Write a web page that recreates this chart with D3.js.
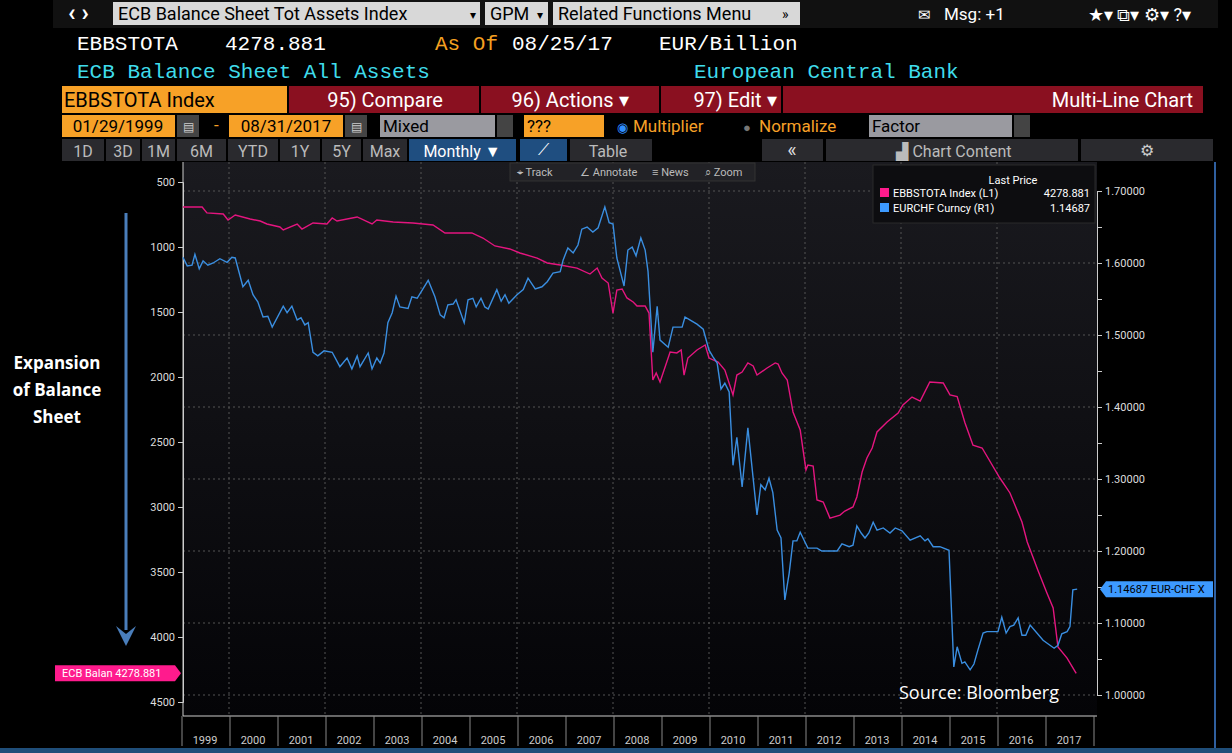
<!DOCTYPE html>
<html><head><meta charset="utf-8">
<script src="https://cdn.jsdelivr.net/npm/d3@7"></script>
<style>body{margin:0;background:#000;overflow:hidden}</style>
</head><body>
<svg id="c" width="1232" height="753"></svg>
<script>
// ECB balance sheet (EUR bn), [year, value]
const ecbData = [[1999.04,692],[1999.44,692],[1999.54,738],[1999.88,746],[1999.98,792],[2000.13,754],[2000.44,785],[2000.65,800],[2000.79,823],[2001.06,846],[2001.13,869],[2001.42,823],[2001.52,862],[2001.75,815],[2002.04,823],[2002.15,777],[2002.25,800],[2002.67,769],[2002.98,823],[2003.08,792],[2003.42,808],[2003.83,815],[2004.25,831],[2004.50,892],[2004.88,892],[2005.06,892],[2005.29,931],[2005.54,992],[2005.85,1015],[2006.06,1046],[2006.42,1085],[2006.63,1123],[2006.90,1138],[2007.25,1162],[2007.52,1208],[2007.67,1162],[2007.77,1238],[2007.90,1277],[2008.00,1508],[2008.08,1331],[2008.19,1323],[2008.29,1392],[2008.42,1423],[2008.50,1454],[2008.67,1454],[2008.75,1508],[2008.83,2023],[2008.90,1969],[2008.98,2038],[2009.19,1808],[2009.33,1815],[2009.42,1792],[2009.48,1985],[2009.56,1854],[2009.75,1792],[2009.92,1754],[2010.00,1854],[2010.19,1885],[2010.33,1946],[2010.50,2138],[2010.58,1985],[2010.69,1962],[2010.81,1892],[2010.92,1915],[2011.00,1985],[2011.21,1931],[2011.38,1892],[2011.44,1900],[2011.52,1969],[2011.63,2023],[2011.75,2269],[2011.90,2408],[2012.02,2715],[2012.06,2677],[2012.17,2685],[2012.25,2946],[2012.38,2962],[2012.52,3085],[2012.73,3062],[2012.83,3031],[2013.00,3000],[2013.08,2923],[2013.19,2731],[2013.29,2623],[2013.40,2546],[2013.50,2423],[2013.71,2346],[2013.94,2277],[2014.04,2215],[2014.23,2154],[2014.40,2185],[2014.60,2038],[2014.88,2046],[2015.02,2138],[2015.17,2150],[2015.33,2350],[2015.50,2525],[2015.69,2546],[2016.06,2777],[2016.27,2892],[2016.52,3115],[2016.63,3269],[2016.85,3485],[2017.04,3662],[2017.17,3777],[2017.27,4077],[2017.46,4162],[2017.65,4279]];
// EURCHF, [year, value]
const chfData = [[1999.04,1.608],[1999.13,1.596],[1999.23,1.597],[1999.29,1.612],[1999.38,1.592],[1999.46,1.603],[1999.56,1.597],[1999.67,1.600],[1999.81,1.606],[1999.96,1.601],[2000.06,1.608],[2000.13,1.607],[2000.29,1.567],[2000.40,1.576],[2000.50,1.556],[2000.60,1.546],[2000.71,1.525],[2000.81,1.526],[2000.90,1.511],[2001.13,1.540],[2001.21,1.531],[2001.31,1.540],[2001.42,1.521],[2001.50,1.524],[2001.58,1.514],[2001.65,1.517],[2001.75,1.476],[2001.85,1.471],[2001.98,1.478],[2002.15,1.476],[2002.31,1.456],[2002.46,1.468],[2002.56,1.453],[2002.67,1.471],[2002.73,1.456],[2002.90,1.475],[2002.98,1.453],[2003.08,1.468],[2003.15,1.461],[2003.23,1.475],[2003.31,1.517],[2003.40,1.531],[2003.48,1.554],[2003.56,1.539],[2003.73,1.537],[2003.81,1.553],[2003.92,1.551],[2004.15,1.576],[2004.29,1.553],[2004.40,1.528],[2004.48,1.524],[2004.56,1.542],[2004.67,1.543],[2004.73,1.549],[2004.90,1.517],[2004.98,1.549],[2005.08,1.551],[2005.15,1.539],[2005.25,1.551],[2005.33,1.539],[2005.40,1.536],[2005.58,1.563],[2005.67,1.547],[2005.75,1.556],[2005.83,1.544],[2006.00,1.556],[2006.13,1.563],[2006.23,1.579],[2006.38,1.564],[2006.52,1.567],[2006.63,1.574],[2006.75,1.586],[2006.90,1.588],[2006.96,1.604],[2007.06,1.621],[2007.17,1.614],[2007.27,1.625],[2007.35,1.647],[2007.46,1.650],[2007.58,1.643],[2007.69,1.649],[2007.83,1.678],[2007.92,1.656],[2008.00,1.654],[2008.08,1.607],[2008.23,1.568],[2008.31,1.618],[2008.40,1.622],[2008.48,1.610],[2008.58,1.635],[2008.67,1.618],[2008.73,1.588],[2008.83,1.476],[2008.92,1.540],[2008.98,1.493],[2009.15,1.483],[2009.25,1.511],[2009.44,1.511],[2009.50,1.525],[2009.60,1.521],[2009.75,1.515],[2009.88,1.508],[2010.00,1.479],[2010.08,1.470],[2010.17,1.461],[2010.25,1.425],[2010.33,1.433],[2010.42,1.421],[2010.50,1.319],[2010.58,1.358],[2010.69,1.289],[2010.81,1.371],[2011.00,1.250],[2011.08,1.292],[2011.17,1.285],[2011.25,1.301],[2011.33,1.281],[2011.42,1.229],[2011.50,1.218],[2011.58,1.132],[2011.67,1.169],[2011.75,1.214],[2011.83,1.214],[2011.90,1.226],[2012.06,1.204],[2012.25,1.204],[2012.35,1.200],[2012.67,1.200],[2012.77,1.210],[2012.92,1.206],[2013.00,1.208],[2013.08,1.235],[2013.17,1.225],[2013.25,1.218],[2013.33,1.225],[2013.42,1.240],[2013.50,1.229],[2013.63,1.232],[2013.77,1.225],[2013.88,1.232],[2014.02,1.228],[2014.19,1.215],[2014.40,1.221],[2014.50,1.214],[2014.56,1.217],[2014.67,1.206],[2014.81,1.206],[2015.00,1.201],[2015.10,1.039],[2015.17,1.067],[2015.27,1.044],[2015.33,1.046],[2015.44,1.035],[2015.52,1.043],[2015.60,1.062],[2015.71,1.086],[2015.79,1.088],[2016.02,1.088],[2016.10,1.108],[2016.19,1.086],[2016.27,1.095],[2016.35,1.097],[2016.44,1.107],[2016.52,1.083],[2016.60,1.083],[2016.69,1.097],[2016.96,1.076],[2017.19,1.065],[2017.27,1.069],[2017.35,1.085],[2017.46,1.088],[2017.52,1.095],[2017.58,1.146],[2017.67,1.147]];
const years = d3.range(1999, 2018);
const leftTicks = [500,1000,1500,2000,2500,3000,3500,4000,4500];
const rightTicks = [1.0,1.1,1.2,1.3,1.4,1.5,1.6,1.7];

const svg = d3.select('#c');
const mono = 'Liberation Mono, DejaVu Sans Mono, monospace';
const sans = 'Roboto, Liberation Sans, sans-serif';
const PL = 183, PR = 1097, PT = 162, PB = 716;

// --- header ---
svg.append('rect').attr('x',53).attr('y',0).attr('width',1165).attr('height',28).attr('fill','#111');
function box(x,y,w,h,fill){ return svg.append('rect').attr('x',x).attr('y',y).attr('width',w).attr('height',h).attr('fill',fill); }
function txt(x,y,s,o){ o=o||{}; return svg.append('text').attr('x',x).attr('y',y).text(s)
  .attr('fill',o.fill||'#fff').attr('font-family',o.ff||sans).attr('font-size',o.fs||18)
  .attr('text-anchor',o.anchor||'start').attr('font-weight',o.fw||'normal'); }
txt(68,21,'‹ ›',{fs:24,fw:'bold'});
box(113,2,367,23,'#d8d8d8'); txt(118,20,'ECB Balance Sheet Tot Assets Index',{fill:'#000'}); txt(470,19,'▾',{fill:'#000',fs:12});
box(485,2,63,23,'#d8d8d8'); txt(490,20,'GPM',{fill:'#000'}); txt(537,19,'▾',{fill:'#000',fs:12});
box(553,2,247,23,'#d8d8d8'); txt(558,20,'Related Functions  Menu',{fill:'#000'}); txt(782,19,'»',{fill:'#000',fs:14});
txt(918,20,'✉',{fs:15}); txt(944,20,'Msg: +1',{fs:17});
txt(1088,21,'★▾ ⧉▾ ⚙▾ ?▾',{fs:18});

txt(77,50,'EBBSTOTA',{ff:mono,fs:21}); txt(225,50,'4278.881',{ff:mono,fs:21});
txt(435,50,'As Of',{ff:mono,fs:21,fill:'#f5a020'}); txt(512,50,'08/25/17',{ff:mono,fs:21});
txt(659,50,'EUR/Billion',{ff:mono,fs:21});
txt(77,78,'ECB Balance Sheet All Assets',{ff:mono,fs:21,fill:'#3fdceb'});
txt(694,78,'European Central Bank',{ff:mono,fs:21,fill:'#3fdceb'});

box(62,86,225,27,'#f7a127'); txt(64,107,'EBBSTOTA Index',{fill:'#000',fs:20});
box(289,86,190,27,'#8a1020'); txt(385,107,'95) Compare',{fs:20,anchor:'middle'});
box(481,86,178,27,'#8a1020'); txt(570,107,'96) Actions ▾',{fs:20,anchor:'middle'});
box(661,86,120,27,'#8a1020'); txt(735,107,'97) Edit ▾',{fs:20,anchor:'middle'});
box(783,86,420,27,'#8a1020'); txt(1193,107,'Multi-Line Chart',{fs:20,anchor:'end'});

box(62,115,113,22,'#f7a127'); txt(118,132,'01/29/1999',{fill:'#000',fs:17,anchor:'middle'});
box(177,115,22,22,'#444'); txt(188,131,'▤',{fs:12,anchor:'middle',fill:'#ccc'});
txt(214,131,'-',{fill:'#f7a127',fs:17});
box(229,115,114,22,'#f7a127'); txt(286,132,'08/31/2017',{fill:'#000',fs:17,anchor:'middle'});
box(345,115,22,22,'#444'); txt(356,131,'▤',{fs:12,anchor:'middle',fill:'#ccc'});
box(380,115,115,22,'#9a9aa0'); txt(383,132,'Mixed',{fill:'#000',fs:17});
box(497,115,16,22,'#444');
box(524,115,80,22,'#f7a127'); txt(527,132,'???',{fill:'#000',fs:17});
txt(617,132,'◉',{fill:'#2f8fff',fs:13}); txt(633,132,'Multiplier',{fill:'#f7a127',fs:17});
txt(743,132,'●',{fill:'#777',fs:13}); txt(759,132,'Normalize',{fill:'#f7a127',fs:17});
box(869,115,143,22,'#9a9aa0'); txt(872,132,'Factor',{fill:'#000',fs:17});
box(1014,115,16,22,'#444');

const tabs = [['1D',62,42],['3D',106,34],['1M',142,33],['6M',177,49],['YTD',228,50],['1Y',280,40],['5Y',322,39],['Max',363,44]];
tabs.forEach(t=>{ box(t[1],139,t[2],22,'#2a2a2e'); txt(t[1]+t[2]/2,157,t[0],{fill:'#bbb',fs:16,anchor:'middle'}); });
box(409,139,107,22,'#1f4e80'); txt(462,157,'Monthly ▼',{fs:16,anchor:'middle'});
box(520,139,47,22,'#1f4e80'); txt(543,155,'⟋',{fs:16,anchor:'middle'});
box(570,139,82,22,'#2a2a2e'); txt(608,157,'Table',{fill:'#bbb',fs:16,anchor:'middle'});
box(762,139,61,22,'#2a2a2e'); txt(792,157,'«',{fill:'#ddd',fs:20,anchor:'middle'});
box(826,139,252,22,'#2a2a2e'); txt(954,157,'▟ Chart Content',{fill:'#bbb',fs:16,anchor:'middle'});
box(1081,139,132,22,'#2a2a2e'); txt(1147,156,'⚙',{fill:'#ccc',fs:16,anchor:'middle'});

// --- plot background ---
const defs = svg.append('defs');
const g = defs.append('linearGradient').attr('id','bg').attr('x1',0).attr('y1',0).attr('x2',0).attr('y2',1);
g.append('stop').attr('offset','0').attr('stop-color','#1a1a1f');
g.append('stop').attr('offset','1').attr('stop-color','#040407');
box(PL,PT,PR-PL,PB-PT,'url(#bg)');

const x = d3.scaleLinear().domain([1999,2019]).range([181,181+20*48]);
const yL = d3.scaleLinear().domain([500,4500]).range([182,702]);
const yR = d3.scaleLinear().domain([1.0,1.7]).range([695,191]);

// grid
const grid = svg.append('g').attr('stroke','#555').attr('stroke-dasharray','2,3');
d3.range(2000,2018,2).forEach(yr=>grid.append('line').attr('x1',x(yr)).attr('x2',x(yr)).attr('y1',PT).attr('y2',PB));
rightTicks.forEach(v=>grid.append('line').attr('x1',PL).attr('x2',PR).attr('y1',yR(v)).attr('y2',yR(v)));

// axes
const axL = svg.append('g').attr('transform',`translate(${PL},0)`)
  .call(d3.axisLeft(yL).tickValues(leftTicks).tickSize(5).tickFormat(d3.format('d')));
const axR = svg.append('g').attr('transform',`translate(${PR},0)`)
  .call(d3.axisRight(yR).tickValues(d3.range(0,15).map(i=>1+i*0.05)).tickSize(5)
  .tickFormat(d=>Math.abs(d*10-Math.round(d*10))<1e-6?d.toFixed(5):''));
[axL,axR].forEach(a=>{ a.select('.domain').attr('stroke','#ccc');
  a.selectAll('line').attr('stroke','#ccc');
  a.selectAll('text').attr('fill','#ddd').attr('font-family',sans).attr('font-size',11); });
svg.append('line').attr('x1',PL).attr('x2',PL).attr('y1',PT).attr('y2',PB).attr('stroke','#ccc');

// x axis band
svg.append('line').attr('x1',PL).attr('x2',PR).attr('y1',PB).attr('y2',PB).attr('stroke','#ccc');
years.forEach(yr=>{
  svg.append('line').attr('x1',x(yr)+1).attr('x2',x(yr)+1).attr('y1',PB).attr('y2',PB+30).attr('stroke','#888');
  txt(x(yr+0.5),744,String(yr),{fill:'#ccc',fs:11,anchor:'middle'});
});
svg.append('line').attr('x1',x(2018)+1).attr('x2',x(2018)+1).attr('y1',PB).attr('y2',PB+30).attr('stroke','#888');
box(0,748,1232,5,'#1f4e79');
svg.append('line').attr('x1',1215).attr('x2',1215).attr('y1',PT).attr('y2',748).attr('stroke','#2f5f9f').attr('stroke-width',2);

// lines
const lineL = d3.line().x(d=>x(d[0])).y(d=>yL(d[1]));
const lineR = d3.line().x(d=>x(d[0])).y(d=>yR(d[1]));
svg.append('path').datum(ecbData).attr('d',lineL).attr('fill','none').attr('stroke','#e4157f').attr('stroke-width',1.4);
svg.append('path').datum(chfData).attr('d',lineR).attr('fill','none').attr('stroke','#3a8ee0').attr('stroke-width',1.4);

// toolbar
box(510,163,245,18,'#222226').attr('stroke','#333');
[['⌖ Track',517],['∠ Annotate',580],['≡ News',652],['⌕ Zoom',705]].forEach(t=>txt(t[1],176,t[0],{fill:'#bbb',fs:11}));

// legend
box(873,165,222,58,'#0d0d10').attr('stroke','#2a2a2a');
txt(1013,184,'Last Price',{fs:11,anchor:'middle'});
box(880,188,9,9,'#ff1b8d'); txt(893,197,'EBBSTOTA Index  (L1)',{fs:11}); txt(1090,197,'4278.881',{fs:11,anchor:'end'});
box(880,203,9,9,'#3d9aff'); txt(893,212,'EURCHF Curncy  (R1)',{fs:11}); txt(1090,212,'1.14687',{fs:11,anchor:'end'});

// value tags
const ty = yR(chfData[chfData.length-1][1]);
svg.append('path').attr('d',`M1100,${ty} l6,-8 h107 v16 h-107 z`).attr('fill','#3d9aff');
txt(1108,ty+4,'1.14687 EUR-CHF  X',{fill:'#000',fs:11});
const py = yL(ecbData[ecbData.length-1][1]);
svg.append('path').attr('d',`M55,${py-8} h120 l6,8 l-6,8 h-120 z`).attr('fill','#ff1b8d');
txt(62,py+4,'ECB Balan   4278.881',{fs:11});

// annotations
svg.append('line').attr('x1',126).attr('x2',126).attr('y1',213).attr('y2',630).attr('stroke','#4a7ebb').attr('stroke-width',3);
svg.append('path').attr('d','M116,626 L126,646 L136,626 L126,634 Z').attr('fill','#4a7ebb');
['Expansion','of Balance','Sheet'].forEach((s,i)=>txt(57,369+i*27,s,{fs:17,fw:'bold',anchor:'middle',ff:'Open Sans, sans-serif'}));
txt(899,699,'Source: Bloomberg',{fs:18,ff:'Open Sans, sans-serif'});
</script>
</body></html>
